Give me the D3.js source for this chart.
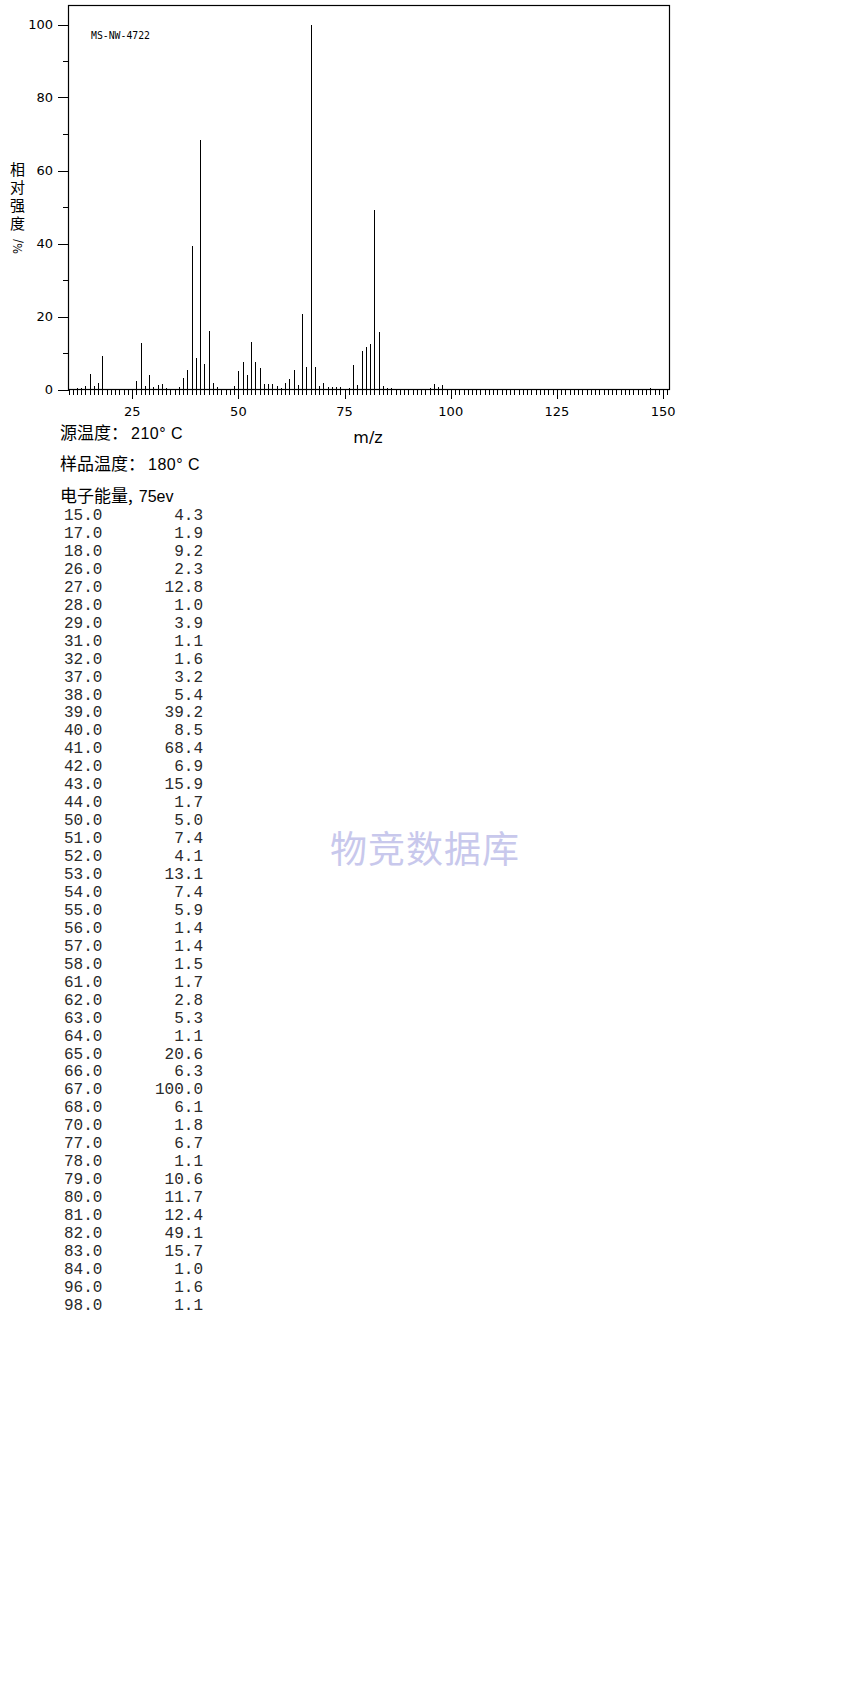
<!DOCTYPE html>
<html><head><meta charset="utf-8">
<script src="https://cdn.jsdelivr.net/npm/d3@7"></script>
<style>body{margin:0;background:#fff}svg{display:block}</style>
</head><body>
<script>
// Data
const tableMz = [15,17,18,26,27,28,29,31,32,37,38,39,40,41,42,43,44,50,51,52,53,54,55,56,57,58,61,62,63,64,65,66,67,68,70,77,78,79,80,81,82,83,84,96,98];
const tableInt = [4.3,1.9,9.2,2.3,12.8,1.0,3.9,1.1,1.6,3.2,5.4,39.2,8.5,68.4,6.9,15.9,1.7,5.0,7.4,4.1,13.1,7.4,5.9,1.4,1.4,1.5,1.7,2.8,5.3,1.1,20.6,6.3,100.0,6.1,1.8,6.7,1.1,10.6,11.7,12.4,49.1,15.7,1.0,1.6,1.1];
// small peaks (<1%) visible in the spectrum but not listed
const minorMz = [12,13,14,16,30,33,36,45,49,59,60,69,71,72,73,74,76,85,86,95,97,147];
const minorInt = [0.5,0.5,0.9,0.9,0.8,0.5,0.6,0.6,0.9,0.9,0.5,0.9,0.6,0.6,0.7,0.7,0.5,0.5,0.5,0.5,0.7,0.5];
const xTickLabels = [25,50,75,100,125,150];
const yTickLabels = [0,20,40,60,80,100];
const yMinorTicks = [10,30,50,70,90];
const sampleId = "MS-NW-4722";
const infoCJK = ["源温度：","样品温度：","电子能量,"];
const infoAscii = ["210° C","180° C","75ev"];

const W = 850, H = 1701;
const svg = d3.select("body").append("svg").attr("width", W).attr("height", H);

const x = d3.scaleLinear().domain([10, 151.5]).range([68.5, 669.5]);
const y = d3.scaleLinear().domain([0, 100]).range([389.5, 24.5]);

// watermark
svg.append("text").attr("x", 425).attr("y", 863).attr("text-anchor","middle")
  .attr("font-family","'Noto Sans CJK SC'").attr("font-size",37).attr("fill","#c8c8ec")
  .attr("letter-spacing",1).text("物竞数据库");

// frame
svg.append("rect").attr("x",68.5).attr("y",5.5).attr("width",601).attr("height",384)
  .attr("fill","none").attr("stroke","#000").attr("stroke-width",1.2);

// x ticks every integer
const xt = d3.range(10, 152);
svg.append("g").selectAll("line").data(xt).join("line")
  .attr("x1", d => Math.round(x(d)) + 0.5).attr("x2", d => Math.round(x(d)) + 0.5)
  .attr("y1", 389.5).attr("y2", d => d % 25 === 0 ? 399 : 395)
  .attr("stroke","#000").attr("stroke-width",1).attr("shape-rendering","crispEdges");

svg.append("g").selectAll("text").data(xTickLabels).join("text")
  .attr("x", d => x(d)).attr("y", 416).attr("text-anchor","middle")
  .attr("font-family","'DejaVu Sans'").attr("font-size",13).attr("fill","#000")
  .text(d => d);

// y ticks
svg.append("g").selectAll("line").data(yTickLabels).join("line")
  .attr("x1", 58).attr("x2", 68.5).attr("y1", d => Math.round(y(d))+0.5).attr("y2", d => Math.round(y(d))+0.5)
  .attr("stroke","#000").attr("shape-rendering","crispEdges");
svg.append("g").selectAll("line").data(yMinorTicks).join("line")
  .attr("x1", 63).attr("x2", 68.5).attr("y1", d => Math.round(y(d))+0.5).attr("y2", d => Math.round(y(d))+0.5)
  .attr("stroke","#000").attr("shape-rendering","crispEdges");
svg.append("g").selectAll("text").data(yTickLabels).join("text")
  .attr("x", 53).attr("y", d => y(d) + 4.5).attr("text-anchor","end")
  .attr("font-family","'DejaVu Sans'").attr("font-size",13).attr("fill","#000")
  .text(d => d);

// y label
const ych = ["相","对","强","度"];
svg.append("g").selectAll("text").data(ych).join("text")
  .attr("x", 17.5).attr("y", (d,i) => 174.5 + i*18.3).attr("text-anchor","middle")
  .attr("font-family","'Noto Sans CJK SC'").attr("font-size",15).attr("fill","#000")
  .text(d => d);
svg.append("text").attr("transform","translate(21.5,254) rotate(-90)")
  .attr("font-family","'DejaVu Sans'").attr("font-size",11.5).attr("fill","#000").text("%/");

// x label
svg.append("text").attr("x", 368).attr("y", 443).attr("text-anchor","middle")
  .attr("font-family","'DejaVu Sans'").attr("font-size",16).attr("fill","#000").text("m/z");

// sample id
svg.append("text").attr("x", 91).attr("y", 39)
  .attr("font-family","'DejaVu Sans Mono'").attr("font-size",9.8).attr("fill","#000").text(sampleId);

// bars
const bars = tableMz.map((m,i)=>({m, v: tableInt[i]})).concat(minorMz.map((m,i)=>({m, v: minorInt[i]})));
svg.append("g").selectAll("line").data(bars).join("line")
  .attr("x1", d => Math.round(x(d.m)) + 0.5).attr("x2", d => Math.round(x(d.m)) + 0.5)
  .attr("y1", 389.5).attr("y2", d => y(d.v))
  .attr("stroke","#000").attr("stroke-width",1).attr("shape-rendering","crispEdges");

// info lines
const info = svg.append("g").selectAll("text").data(infoCJK).join("text")
  .attr("x", 60).attr("y", (d,i) => [439,470,502][i])
  .attr("font-family","'Noto Sans CJK SC'").attr("font-size",17).attr("fill","#000");
info.append("tspan").text(d => d);
info.append("tspan").attr("font-family","'Liberation Sans'")
  .attr("dx",(d,i) => i === 2 ? 6 : 3)
  .attr("font-size",16).attr("letter-spacing",(d,i) => i === 2 ? 0 : 0.5)
  .text((d,i) => infoAscii[i]);

// table
const rows = svg.append("g").attr("font-family","'Liberation Mono'").attr("font-size",16).attr("fill","#2a2a2a");
rows.selectAll("text.mz").data(tableMz).join("text").attr("class","mz")
  .attr("x", 64).attr("y", (d,i) => 520 + i*17.95).text(d => d.toFixed(1));
rows.selectAll("text.iv").data(tableInt).join("text").attr("class","iv")
  .attr("x", 203).attr("y", (d,i) => 520 + i*17.95).attr("text-anchor","end").text(d => d.toFixed(1));
</script>
</body></html>
